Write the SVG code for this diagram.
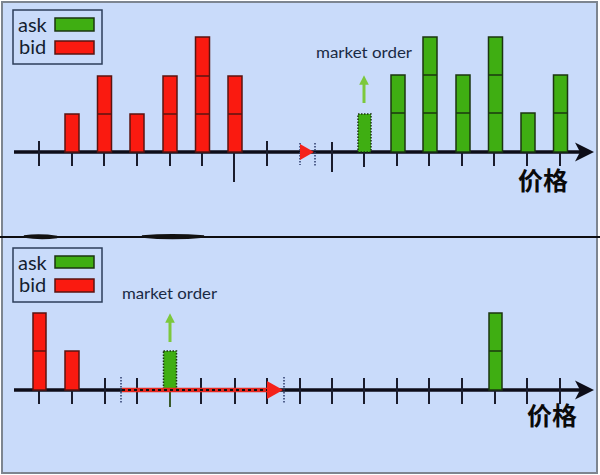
<svg xmlns="http://www.w3.org/2000/svg" width="600" height="475" viewBox="0 0 600 475">
<style>
.bg{fill:#c9dbfa;stroke:#7d8590;stroke-width:2}
.axis{stroke:#0d0d18;stroke-width:3.5;fill:none}
.tick{stroke:#1a1c2c;stroke-width:2}
.red{fill:#fa1a10;stroke:#5a1410;stroke-width:1.5}
.grn{fill:#3fae12;stroke:#1b3610;stroke-width:1.5}
.div{stroke-width:1.5}
.mo{fill:#3fae12;stroke:#1b3610;stroke-width:1.5;stroke-dasharray:1.5 1.5}
.leg{fill:none;stroke:#2c3e5a;stroke-width:1.5}
.lt{font-family:Lato,'Open Sans',sans-serif;font-size:20px;fill:#141e30}
.mt{font-family:Lato,'Open Sans',sans-serif;font-size:16px;fill:#1a2a44}
.cn{font-family:'Noto Sans CJK SC',sans-serif;font-size:25px;font-weight:bold;fill:#0a0a0a}
.dot{stroke:#2a3a6a;stroke-width:1.5;stroke-dasharray:1.5 1.5}
.garrow{stroke:#7cc83c;stroke-width:3;fill:none}
</style>
<defs>
<marker id="gh" viewBox="0 0 10 10" refX="5" refY="5" markerWidth="3.2" markerHeight="3.2" orient="auto"><path d="M0,0 L10,5 L0,10 z" fill="#7cc83c"/></marker>
</defs>
<rect class="bg" x="2" y="2" width="595" height="471"/>
<g id="separator">
<line x1="0" y1="237" x2="600" y2="237" stroke="#0d0d10" stroke-width="2"/>
<path d="M24,236.5 Q40,234.5 57,237 Q40,239 24,236.5 z" fill="#111" stroke="#111" stroke-width="2.5"/>
<path d="M142,236.5 Q172,234 204,236.5 Q172,239.5 142,236.5 z" fill="#111" stroke="#111" stroke-width="2.5"/>
</g>
<g id="top-legend">
<rect class="leg" x="13" y="10" width="89" height="54"/>
<text class="lt" x="18" y="32">ask</text>
<rect class="grn" x="55" y="18" width="39" height="13"/>
<text class="lt" x="19" y="54">bid</text>
<rect class="red" x="55" y="41" width="39" height="13"/>
</g>
<g id="top-axis">
<line class="axis" x1="14" y1="152" x2="582" y2="152"/>
<polygon points="594,152 575,142.5 580,152 575,161.5" fill="#0d0d18"/>
<g class="tick">
<line x1="39" y1="141" x2="39" y2="166"/><line x1="72" y1="152" x2="72" y2="166"/><line x1="104" y1="152" x2="104" y2="166"/><line x1="137" y1="152" x2="137" y2="166"/><line x1="170" y1="152" x2="170" y2="166"/><line x1="202" y1="152" x2="202" y2="166"/><line x1="234" y1="152" x2="234" y2="182"/><line x1="267" y1="141" x2="267" y2="166"/><line x1="332" y1="142" x2="332" y2="172"/><line x1="364" y1="152" x2="364" y2="167"/><line x1="397" y1="152" x2="397" y2="166"/><line x1="429" y1="152" x2="429" y2="166"/><line x1="462" y1="152" x2="462" y2="166"/><line x1="494" y1="152" x2="494" y2="166"/><line x1="527" y1="152" x2="527" y2="166"/><line x1="560" y1="152" x2="560" y2="166"/>
</g>
</g>
<g id="top-bids">
<rect class="red" x="65" y="114" width="14" height="38"/>
<rect class="red" x="97.5" y="76" width="14" height="76"/><line class="div" stroke="#5a1410" x1="97.5" y1="114" x2="111.5" y2="114"/>
<rect class="red" x="130" y="114" width="14" height="38"/>
<rect class="red" x="163" y="76" width="14" height="76"/><line class="div" stroke="#5a1410" x1="163" y1="114" x2="177" y2="114"/>
<rect class="red" x="195.5" y="37" width="14" height="115"/><line class="div" stroke="#5a1410" x1="195.5" y1="76" x2="209.5" y2="76"/><line class="div" stroke="#5a1410" x1="195.5" y1="114" x2="209.5" y2="114"/>
<rect class="red" x="228" y="76" width="14" height="76"/><line class="div" stroke="#5a1410" x1="228" y1="114" x2="242" y2="114"/>
</g>
<g id="top-asks">
<rect class="mo" x="358" y="114" width="13" height="38"/>
<rect class="grn" x="391" y="75" width="14" height="77"/><line class="div" stroke="#1b3610" x1="391" y1="113" x2="405" y2="113"/>
<rect class="grn" x="423" y="37" width="14" height="115"/><line class="div" stroke="#1b3610" x1="423" y1="75" x2="437" y2="75"/><line class="div" stroke="#1b3610" x1="423" y1="113" x2="437" y2="113"/>
<rect class="grn" x="456" y="75" width="14" height="77"/><line class="div" stroke="#1b3610" x1="456" y1="113" x2="470" y2="113"/>
<rect class="grn" x="488.5" y="37" width="14" height="115"/><line class="div" stroke="#1b3610" x1="488.5" y1="75" x2="502.5" y2="75"/><line class="div" stroke="#1b3610" x1="488.5" y1="113" x2="502.5" y2="113"/>
<rect class="grn" x="521" y="113" width="14" height="39"/>
<rect class="grn" x="553.5" y="75" width="14" height="77"/><line class="div" stroke="#1b3610" x1="553.5" y1="113" x2="567.5" y2="113"/>
</g>
<g id="top-labels">
<text class="mt" x="316" y="58" textLength="96" lengthAdjust="spacingAndGlyphs">market order</text>
<text class="cn" x="518" y="190">价格</text>
</g>
<g id="bottom-legend">
<rect class="leg" x="13" y="248" width="89" height="54"/>
<text class="lt" x="18" y="270">ask</text>
<rect class="grn" x="55" y="256" width="39" height="12"/>
<text class="lt" x="19" y="292">bid</text>
<rect class="red" x="55" y="279" width="39" height="13"/>
</g>
<g id="bottom-axis">
<line class="axis" x1="14" y1="390" x2="582" y2="390"/>
<polygon points="594,390 575,380.5 580,390 575,399.5" fill="#0d0d18"/>
<g class="tick">
<line x1="39" y1="390" x2="39" y2="404"/><line x1="72" y1="390" x2="72" y2="404"/><line x1="105" y1="378" x2="105" y2="404"/><line x1="137" y1="378" x2="137" y2="404"/><line x1="201" y1="378" x2="201" y2="404"/><line x1="235" y1="378" x2="235" y2="404"/><line x1="267" y1="378" x2="267" y2="404"/><line x1="300" y1="378" x2="300" y2="404"/><line x1="332" y1="378" x2="332" y2="404"/><line x1="364" y1="378" x2="364" y2="404"/><line x1="397" y1="378" x2="397" y2="404"/><line x1="429" y1="378" x2="429" y2="404"/><line x1="462" y1="378" x2="462" y2="404"/><line x1="495" y1="390" x2="495" y2="404"/><line x1="527" y1="378" x2="527" y2="404"/><line x1="560" y1="378" x2="560" y2="404"/>
</g>
<line x1="170" y1="390" x2="170" y2="407" stroke="#3a5a2a" stroke-width="2"/>
</g>
<g id="bottom-bids">
<rect class="red" x="33" y="313" width="13" height="77"/><line class="div" stroke="#5a1410" x1="33" y1="351" x2="46" y2="351"/>
<rect class="red" x="65" y="351" width="14" height="39"/>
</g>
<g id="bottom-asks">
<rect class="mo" x="163.5" y="351" width="13" height="39"/>
<rect class="grn" x="489" y="313" width="13" height="77"/><line class="div" stroke="#1b3610" x1="489" y1="351" x2="502" y2="351"/>
</g>
<g id="bottom-labels">
<text class="mt" x="122" y="299" textLength="95" lengthAdjust="spacingAndGlyphs">market order</text>
<text class="cn" x="527" y="425">价格</text>
</g>
<g id="connectors">
<line class="garrow" x1="364" y1="103" x2="364" y2="80" marker-end="url(#gh)"/>
<line class="garrow" x1="170" y1="342" x2="170" y2="318" marker-end="url(#gh)"/>
<line class="dot" x1="300" y1="143" x2="300" y2="165"/>
<line class="dot" x1="315" y1="143" x2="315" y2="166"/>
<polygon points="300,144 314,152 300,160" fill="#f5221a"/>
<line class="dot" x1="121" y1="377" x2="121" y2="403"/>
<line class="dot" x1="284" y1="377" x2="284" y2="403"/>
<line x1="122" y1="390" x2="268" y2="390" stroke="#e8281e" stroke-width="4.5"/>
<line x1="122" y1="390" x2="268" y2="390" stroke="#111" stroke-width="2" stroke-dasharray="3 3"/>
<polygon points="267,381 283,390 267,399" fill="#f5221a"/>
</g>
</svg>
